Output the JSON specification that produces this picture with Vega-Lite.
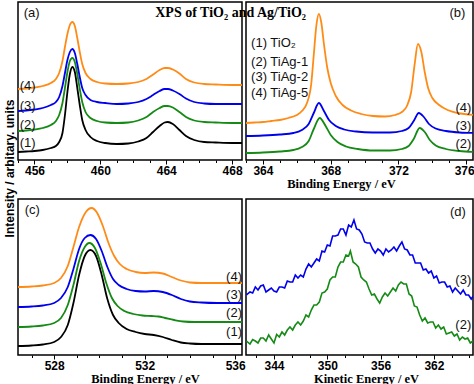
{
"$schema": "https://vega.github.io/schema/vega-lite/v6.json",
"padding": {"left": 2, "top": 1, "right": 0, "bottom": 0},
"title": {"text": "XPS of TiO₂ and Ag/TiO₂", "font": "Liberation Serif", "fontSize": 14, "fontWeight": "bold", "color": "#000", "anchor": "middle", "baseline": "middle", "offset": 0, "dx": -8, "dy": 26},
"config": {
  "view": {"stroke": "#000", "strokeWidth": 1.5},
  "axis": {"labelFont": "Liberation Sans", "labelFontSize": 12, "labelFontWeight": "bold", "labelColor": "#000", "tickColor": "#000", "titleFont": "Liberation Serif", "titleFontSize": 12.5, "titleFontWeight": "bold", "titleColor": "#000", "grid": false, "domain": false},
  "text": {"font": "Liberation Sans", "fontSize": 13, "color": "#111"},
  "line": {"strokeWidth": 1.8}
},
"datasets": {
"a": [
{"x":455.0,"y":8,"s":"(1)"},{"x":455.5,"y":8.5,"s":"(1)"},{"x":456.0,"y":9,"s":"(1)"},{"x":456.5,"y":10,"s":"(1)"},{"x":457.0,"y":12,"s":"(1)"},{"x":457.3,"y":14,"s":"(1)"},{"x":457.5,"y":18,"s":"(1)"},{"x":457.7,"y":27,"s":"(1)"},{"x":457.85,"y":45,"s":"(1)"},{"x":458.0,"y":68,"s":"(1)"},{"x":458.15,"y":86,"s":"(1)"},{"x":458.3,"y":93,"s":"(1)"},{"x":458.45,"y":88,"s":"(1)"},{"x":458.6,"y":72,"s":"(1)"},{"x":458.75,"y":55,"s":"(1)"},{"x":458.9,"y":40,"s":"(1)"},{"x":459.1,"y":30,"s":"(1)"},{"x":459.4,"y":23,"s":"(1)"},{"x":459.8,"y":19,"s":"(1)"},{"x":460.3,"y":17,"s":"(1)"},{"x":461.0,"y":16,"s":"(1)"},{"x":461.7,"y":16.5,"s":"(1)"},{"x":462.3,"y":18.5,"s":"(1)"},{"x":462.8,"y":22,"s":"(1)"},{"x":463.2,"y":28,"s":"(1)"},{"x":463.6,"y":34,"s":"(1)"},{"x":463.9,"y":37.5,"s":"(1)"},{"x":464.1,"y":38,"s":"(1)"},{"x":464.4,"y":36,"s":"(1)"},{"x":464.8,"y":30,"s":"(1)"},{"x":465.2,"y":24,"s":"(1)"},{"x":465.7,"y":20,"s":"(1)"},{"x":466.3,"y":18,"s":"(1)"},{"x":467.0,"y":17.5,"s":"(1)"},{"x":468.0,"y":17,"s":"(1)"},{"x":468.6,"y":17,"s":"(1)"},
{"x":455.0,"y":29,"s":"(2)"},{"x":455.5,"y":29.5,"s":"(2)"},{"x":456.0,"y":30.5,"s":"(2)"},{"x":456.5,"y":32,"s":"(2)"},{"x":457.0,"y":35,"s":"(2)"},{"x":457.3,"y":39,"s":"(2)"},{"x":457.5,"y":45,"s":"(2)"},{"x":457.7,"y":57,"s":"(2)"},{"x":457.85,"y":72,"s":"(2)"},{"x":458.0,"y":88,"s":"(2)"},{"x":458.15,"y":99,"s":"(2)"},{"x":458.3,"y":102,"s":"(2)"},{"x":458.45,"y":98,"s":"(2)"},{"x":458.6,"y":86,"s":"(2)"},{"x":458.75,"y":71,"s":"(2)"},{"x":458.9,"y":58,"s":"(2)"},{"x":459.1,"y":48,"s":"(2)"},{"x":459.4,"y":42,"s":"(2)"},{"x":459.8,"y":39,"s":"(2)"},{"x":460.3,"y":37.5,"s":"(2)"},{"x":461.0,"y":37,"s":"(2)"},{"x":461.7,"y":37.5,"s":"(2)"},{"x":462.3,"y":39.5,"s":"(2)"},{"x":462.8,"y":43,"s":"(2)"},{"x":463.2,"y":48,"s":"(2)"},{"x":463.6,"y":52,"s":"(2)"},{"x":463.9,"y":54,"s":"(2)"},{"x":464.1,"y":54,"s":"(2)"},{"x":464.4,"y":52.5,"s":"(2)"},{"x":464.8,"y":48,"s":"(2)"},{"x":465.2,"y":43,"s":"(2)"},{"x":465.7,"y":39.5,"s":"(2)"},{"x":466.3,"y":38,"s":"(2)"},{"x":467.0,"y":37.5,"s":"(2)"},{"x":468.0,"y":37,"s":"(2)"},{"x":468.6,"y":37,"s":"(2)"},
{"x":455.0,"y":49,"s":"(3)"},{"x":455.5,"y":49.5,"s":"(3)"},{"x":456.0,"y":50.5,"s":"(3)"},{"x":456.5,"y":52,"s":"(3)"},{"x":457.0,"y":55,"s":"(3)"},{"x":457.3,"y":58,"s":"(3)"},{"x":457.5,"y":63,"s":"(3)"},{"x":457.7,"y":74,"s":"(3)"},{"x":457.85,"y":87,"s":"(3)"},{"x":458.0,"y":100,"s":"(3)"},{"x":458.15,"y":108,"s":"(3)"},{"x":458.3,"y":111,"s":"(3)"},{"x":458.45,"y":107,"s":"(3)"},{"x":458.6,"y":96,"s":"(3)"},{"x":458.75,"y":83,"s":"(3)"},{"x":458.9,"y":72,"s":"(3)"},{"x":459.1,"y":65,"s":"(3)"},{"x":459.4,"y":60,"s":"(3)"},{"x":459.8,"y":58,"s":"(3)"},{"x":460.3,"y":57,"s":"(3)"},{"x":461.0,"y":56,"s":"(3)"},{"x":461.7,"y":56.5,"s":"(3)"},{"x":462.3,"y":58,"s":"(3)"},{"x":462.8,"y":61,"s":"(3)"},{"x":463.2,"y":65,"s":"(3)"},{"x":463.6,"y":69,"s":"(3)"},{"x":463.9,"y":71,"s":"(3)"},{"x":464.1,"y":71,"s":"(3)"},{"x":464.4,"y":69.5,"s":"(3)"},{"x":464.8,"y":66,"s":"(3)"},{"x":465.2,"y":61.5,"s":"(3)"},{"x":465.7,"y":58,"s":"(3)"},{"x":466.3,"y":56.5,"s":"(3)"},{"x":467.0,"y":56,"s":"(3)"},{"x":468.0,"y":56,"s":"(3)"},{"x":468.6,"y":56,"s":"(3)"},
{"x":455.0,"y":71,"s":"(4)"},{"x":455.5,"y":71.5,"s":"(4)"},{"x":456.0,"y":72.5,"s":"(4)"},{"x":456.5,"y":74,"s":"(4)"},{"x":457.0,"y":77,"s":"(4)"},{"x":457.3,"y":81,"s":"(4)"},{"x":457.5,"y":87,"s":"(4)"},{"x":457.7,"y":99,"s":"(4)"},{"x":457.85,"y":113,"s":"(4)"},{"x":458.0,"y":126,"s":"(4)"},{"x":458.15,"y":135,"s":"(4)"},{"x":458.3,"y":138,"s":"(4)"},{"x":458.45,"y":134,"s":"(4)"},{"x":458.6,"y":122,"s":"(4)"},{"x":458.75,"y":108,"s":"(4)"},{"x":458.9,"y":96,"s":"(4)"},{"x":459.1,"y":87,"s":"(4)"},{"x":459.4,"y":81,"s":"(4)"},{"x":459.8,"y":78,"s":"(4)"},{"x":460.3,"y":76.5,"s":"(4)"},{"x":461.0,"y":76,"s":"(4)"},{"x":461.7,"y":76.5,"s":"(4)"},{"x":462.3,"y":78,"s":"(4)"},{"x":462.8,"y":81,"s":"(4)"},{"x":463.2,"y":85.5,"s":"(4)"},{"x":463.6,"y":90,"s":"(4)"},{"x":463.9,"y":92,"s":"(4)"},{"x":464.1,"y":92,"s":"(4)"},{"x":464.4,"y":90.5,"s":"(4)"},{"x":464.8,"y":86.5,"s":"(4)"},{"x":465.2,"y":81,"s":"(4)"},{"x":465.7,"y":77.5,"s":"(4)"},{"x":466.3,"y":76,"s":"(4)"},{"x":467.0,"y":75.5,"s":"(4)"},{"x":468.0,"y":75,"s":"(4)"},{"x":468.6,"y":75,"s":"(4)"}
],
"b": [
{"x":363.0,"y":7,"s":"(2)"},{"x":364.0,"y":7.5,"s":"(2)"},{"x":365.0,"y":8.5,"s":"(2)"},{"x":365.8,"y":10,"s":"(2)"},{"x":366.3,"y":13,"s":"(2)"},{"x":366.7,"y":19,"s":"(2)"},{"x":367.0,"y":31,"s":"(2)"},{"x":367.35,"y":42,"s":"(2)"},{"x":367.7,"y":34,"s":"(2)"},{"x":368.0,"y":25,"s":"(2)"},{"x":368.4,"y":18,"s":"(2)"},{"x":368.9,"y":13.5,"s":"(2)"},{"x":369.6,"y":11,"s":"(2)"},{"x":370.5,"y":9.5,"s":"(2)"},{"x":371.5,"y":9.5,"s":"(2)"},{"x":372.2,"y":11,"s":"(2)"},{"x":372.6,"y":14,"s":"(2)"},{"x":372.9,"y":21,"s":"(2)"},{"x":373.25,"y":32,"s":"(2)"},{"x":373.55,"y":28,"s":"(2)"},{"x":373.85,"y":20,"s":"(2)"},{"x":374.2,"y":14.5,"s":"(2)"},{"x":374.8,"y":11,"s":"(2)"},{"x":375.6,"y":9,"s":"(2)"},{"x":376.5,"y":8,"s":"(2)"},
{"x":363.0,"y":24,"s":"(3)"},{"x":364.0,"y":24.5,"s":"(3)"},{"x":365.0,"y":25.5,"s":"(3)"},{"x":365.8,"y":27,"s":"(3)"},{"x":366.3,"y":30,"s":"(3)"},{"x":366.7,"y":36,"s":"(3)"},{"x":367.0,"y":47,"s":"(3)"},{"x":367.3,"y":57,"s":"(3)"},{"x":367.6,"y":49,"s":"(3)"},{"x":367.9,"y":40,"s":"(3)"},{"x":368.3,"y":34,"s":"(3)"},{"x":368.8,"y":30.5,"s":"(3)"},{"x":369.5,"y":28.5,"s":"(3)"},{"x":370.5,"y":27.5,"s":"(3)"},{"x":371.5,"y":27.5,"s":"(3)"},{"x":372.2,"y":29,"s":"(3)"},{"x":372.6,"y":32,"s":"(3)"},{"x":372.9,"y":39,"s":"(3)"},{"x":373.2,"y":47,"s":"(3)"},{"x":373.5,"y":43,"s":"(3)"},{"x":373.8,"y":36,"s":"(3)"},{"x":374.2,"y":31.5,"s":"(3)"},{"x":374.8,"y":29,"s":"(3)"},{"x":375.6,"y":27.5,"s":"(3)"},{"x":376.5,"y":27,"s":"(3)"},
{"x":363.0,"y":37,"s":"(4)"},{"x":363.5,"y":37.5,"s":"(4)"},{"x":364.0,"y":38,"s":"(4)"},{"x":364.5,"y":39,"s":"(4)"},{"x":365.0,"y":40,"s":"(4)"},{"x":365.5,"y":42,"s":"(4)"},{"x":366.0,"y":45,"s":"(4)"},{"x":366.3,"y":49,"s":"(4)"},{"x":366.6,"y":57,"s":"(4)"},{"x":366.85,"y":76,"s":"(4)"},{"x":367.0,"y":105,"s":"(4)"},{"x":367.15,"y":134,"s":"(4)"},{"x":367.3,"y":146,"s":"(4)"},{"x":367.45,"y":137,"s":"(4)"},{"x":367.6,"y":116,"s":"(4)"},{"x":367.8,"y":92,"s":"(4)"},{"x":368.0,"y":77,"s":"(4)"},{"x":368.3,"y":64,"s":"(4)"},{"x":368.7,"y":55,"s":"(4)"},{"x":369.2,"y":49.5,"s":"(4)"},{"x":369.8,"y":46,"s":"(4)"},{"x":370.5,"y":44,"s":"(4)"},{"x":371.2,"y":43.5,"s":"(4)"},{"x":371.8,"y":45,"s":"(4)"},{"x":372.2,"y":48,"s":"(4)"},{"x":372.5,"y":54,"s":"(4)"},{"x":372.75,"y":68,"s":"(4)"},{"x":372.95,"y":95,"s":"(4)"},{"x":373.15,"y":116,"s":"(4)"},{"x":373.35,"y":108,"s":"(4)"},{"x":373.55,"y":88,"s":"(4)"},{"x":373.75,"y":72,"s":"(4)"},{"x":374.0,"y":62,"s":"(4)"},{"x":374.4,"y":55,"s":"(4)"},{"x":374.9,"y":50,"s":"(4)"},{"x":375.5,"y":47,"s":"(4)"},{"x":376.5,"y":45,"s":"(4)"}
],
"c": [
{"x":526.4,"y":9,"s":"(1)"},{"x":527.0,"y":9.5,"s":"(1)"},{"x":527.5,"y":10.5,"s":"(1)"},{"x":528.0,"y":13,"s":"(1)"},{"x":528.3,"y":18,"s":"(1)"},{"x":528.6,"y":30,"s":"(1)"},{"x":528.85,"y":52,"s":"(1)"},{"x":529.1,"y":80,"s":"(1)"},{"x":529.35,"y":99,"s":"(1)"},{"x":529.6,"y":105,"s":"(1)"},{"x":529.85,"y":99,"s":"(1)"},{"x":530.1,"y":80,"s":"(1)"},{"x":530.35,"y":56,"s":"(1)"},{"x":530.6,"y":40,"s":"(1)"},{"x":530.85,"y":32,"s":"(1)"},{"x":531.2,"y":26,"s":"(1)"},{"x":531.6,"y":23,"s":"(1)"},{"x":532.0,"y":21,"s":"(1)"},{"x":532.4,"y":20,"s":"(1)"},{"x":532.8,"y":18,"s":"(1)"},{"x":533.2,"y":15,"s":"(1)"},{"x":533.6,"y":12.5,"s":"(1)"},{"x":534.0,"y":11.5,"s":"(1)"},{"x":534.5,"y":11,"s":"(1)"},{"x":535.0,"y":11,"s":"(1)"},{"x":535.5,"y":11,"s":"(1)"},{"x":536.4,"y":11,"s":"(1)"},
{"x":526.4,"y":28,"s":"(2)"},{"x":527.0,"y":28.5,"s":"(2)"},{"x":527.5,"y":29.5,"s":"(2)"},{"x":528.0,"y":32,"s":"(2)"},{"x":528.3,"y":37,"s":"(2)"},{"x":528.6,"y":50,"s":"(2)"},{"x":528.85,"y":70,"s":"(2)"},{"x":529.1,"y":94,"s":"(2)"},{"x":529.35,"y":108,"s":"(2)"},{"x":529.55,"y":112,"s":"(2)"},{"x":529.8,"y":107,"s":"(2)"},{"x":530.05,"y":92,"s":"(2)"},{"x":530.3,"y":72,"s":"(2)"},{"x":530.55,"y":57,"s":"(2)"},{"x":530.8,"y":49,"s":"(2)"},{"x":531.1,"y":44,"s":"(2)"},{"x":531.5,"y":41,"s":"(2)"},{"x":531.9,"y":39.5,"s":"(2)"},{"x":532.3,"y":39,"s":"(2)"},{"x":532.6,"y":38.5,"s":"(2)"},{"x":532.9,"y":37,"s":"(2)"},{"x":533.3,"y":35,"s":"(2)"},{"x":533.7,"y":33.5,"s":"(2)"},{"x":534.2,"y":33,"s":"(2)"},{"x":535.0,"y":33,"s":"(2)"},{"x":535.6,"y":33,"s":"(2)"},{"x":536.4,"y":33,"s":"(2)"},
{"x":526.4,"y":48,"s":"(3)"},{"x":527.0,"y":48.5,"s":"(3)"},{"x":527.5,"y":49.5,"s":"(3)"},{"x":528.0,"y":52,"s":"(3)"},{"x":528.3,"y":57,"s":"(3)"},{"x":528.6,"y":68,"s":"(3)"},{"x":528.85,"y":86,"s":"(3)"},{"x":529.1,"y":106,"s":"(3)"},{"x":529.35,"y":117,"s":"(3)"},{"x":529.6,"y":120,"s":"(3)"},{"x":529.85,"y":116,"s":"(3)"},{"x":530.1,"y":104,"s":"(3)"},{"x":530.35,"y":88,"s":"(3)"},{"x":530.6,"y":76,"s":"(3)"},{"x":530.85,"y":70,"s":"(3)"},{"x":531.2,"y":66,"s":"(3)"},{"x":531.6,"y":64,"s":"(3)"},{"x":532.0,"y":63.5,"s":"(3)"},{"x":532.4,"y":64,"s":"(3)"},{"x":532.8,"y":63,"s":"(3)"},{"x":533.2,"y":60,"s":"(3)"},{"x":533.6,"y":56,"s":"(3)"},{"x":534.0,"y":53.5,"s":"(3)"},{"x":534.5,"y":52.5,"s":"(3)"},{"x":535.2,"y":52,"s":"(3)"},{"x":536.4,"y":52,"s":"(3)"},
{"x":526.4,"y":68,"s":"(4)"},{"x":527.0,"y":68.5,"s":"(4)"},{"x":527.5,"y":69.5,"s":"(4)"},{"x":528.0,"y":72,"s":"(4)"},{"x":528.3,"y":77,"s":"(4)"},{"x":528.6,"y":89,"s":"(4)"},{"x":528.85,"y":108,"s":"(4)"},{"x":529.1,"y":128,"s":"(4)"},{"x":529.4,"y":143,"s":"(4)"},{"x":529.65,"y":147,"s":"(4)"},{"x":529.9,"y":142,"s":"(4)"},{"x":530.15,"y":129,"s":"(4)"},{"x":530.4,"y":112,"s":"(4)"},{"x":530.65,"y":99,"s":"(4)"},{"x":530.9,"y":91,"s":"(4)"},{"x":531.2,"y":86,"s":"(4)"},{"x":531.6,"y":83,"s":"(4)"},{"x":532.0,"y":82,"s":"(4)"},{"x":532.4,"y":82.5,"s":"(4)"},{"x":532.8,"y":81.5,"s":"(4)"},{"x":533.2,"y":78,"s":"(4)"},{"x":533.6,"y":74.5,"s":"(4)"},{"x":534.0,"y":72.5,"s":"(4)"},{"x":534.5,"y":72,"s":"(4)"},{"x":535.2,"y":72,"s":"(4)"},{"x":536.4,"y":72,"s":"(4)"}
],
"d": [
{"x":340.9,"y":60,"s":"(3)"},{"x":341.3,"y":63,"s":"(3)"},{"x":341.6,"y":62,"s":"(3)"},{"x":341.9,"y":68,"s":"(3)"},{"x":342.2,"y":65,"s":"(3)"},{"x":342.5,"y":69,"s":"(3)"},{"x":342.8,"y":70,"s":"(3)"},{"x":343.1,"y":63,"s":"(3)"},{"x":343.4,"y":65,"s":"(3)"},{"x":343.7,"y":67,"s":"(3)"},{"x":344.0,"y":64,"s":"(3)"},{"x":344.3,"y":63,"s":"(3)"},{"x":344.6,"y":68,"s":"(3)"},{"x":344.9,"y":68,"s":"(3)"},{"x":345.2,"y":67,"s":"(3)"},{"x":345.5,"y":74,"s":"(3)"},{"x":345.8,"y":73,"s":"(3)"},{"x":346.1,"y":73,"s":"(3)"},{"x":346.4,"y":80,"s":"(3)"},{"x":346.7,"y":77,"s":"(3)"},{"x":347.0,"y":80,"s":"(3)"},{"x":347.3,"y":78,"s":"(3)"},{"x":347.6,"y":86,"s":"(3)"},{"x":347.9,"y":91,"s":"(3)"},{"x":348.2,"y":88,"s":"(3)"},{"x":348.5,"y":92,"s":"(3)"},{"x":348.8,"y":96,"s":"(3)"},{"x":349.1,"y":94,"s":"(3)"},{"x":349.4,"y":104,"s":"(3)"},{"x":349.7,"y":103,"s":"(3)"},{"x":350.0,"y":110,"s":"(3)"},{"x":350.3,"y":109,"s":"(3)"},{"x":350.6,"y":119,"s":"(3)"},{"x":350.9,"y":119,"s":"(3)"},{"x":351.2,"y":120,"s":"(3)"},{"x":351.5,"y":126,"s":"(3)"},{"x":351.8,"y":126,"s":"(3)"},{"x":352.1,"y":120,"s":"(3)"},{"x":352.4,"y":130,"s":"(3)"},{"x":352.7,"y":128,"s":"(3)"},{"x":353.0,"y":135,"s":"(3)"},{"x":353.3,"y":126,"s":"(3)"},{"x":353.6,"y":125,"s":"(3)"},{"x":353.9,"y":121,"s":"(3)"},{"x":354.2,"y":113,"s":"(3)"},{"x":354.5,"y":112,"s":"(3)"},{"x":354.8,"y":112,"s":"(3)"},{"x":355.1,"y":106,"s":"(3)"},{"x":355.4,"y":102,"s":"(3)"},{"x":355.7,"y":106,"s":"(3)"},{"x":356.0,"y":104,"s":"(3)"},{"x":356.3,"y":100,"s":"(3)"},{"x":356.6,"y":106,"s":"(3)"},{"x":356.9,"y":103,"s":"(3)"},{"x":357.2,"y":105,"s":"(3)"},{"x":357.5,"y":108,"s":"(3)"},{"x":357.8,"y":104,"s":"(3)"},{"x":358.1,"y":109,"s":"(3)"},{"x":358.4,"y":113,"s":"(3)"},{"x":358.7,"y":106,"s":"(3)"},{"x":359.0,"y":105,"s":"(3)"},{"x":359.3,"y":100,"s":"(3)"},{"x":359.6,"y":100,"s":"(3)"},{"x":359.9,"y":92,"s":"(3)"},{"x":360.2,"y":92,"s":"(3)"},{"x":360.5,"y":92,"s":"(3)"},{"x":360.8,"y":85,"s":"(3)"},{"x":361.1,"y":86,"s":"(3)"},{"x":361.4,"y":82,"s":"(3)"},{"x":361.7,"y":84,"s":"(3)"},{"x":362.0,"y":77,"s":"(3)"},{"x":362.3,"y":79,"s":"(3)"},{"x":362.6,"y":72,"s":"(3)"},{"x":362.9,"y":73,"s":"(3)"},{"x":363.2,"y":73,"s":"(3)"},{"x":363.5,"y":68,"s":"(3)"},{"x":363.8,"y":69,"s":"(3)"},{"x":364.1,"y":63,"s":"(3)"},{"x":364.4,"y":67,"s":"(3)"},{"x":364.7,"y":64,"s":"(3)"},{"x":365.0,"y":61,"s":"(3)"},{"x":365.3,"y":65,"s":"(3)"},{"x":365.6,"y":60,"s":"(3)"},{"x":365.9,"y":60,"s":"(3)"},{"x":366.2,"y":56,"s":"(3)"},{"x":366.5,"y":60,"s":"(3)"},
{"x":340.9,"y":14,"s":"(2)"},{"x":341.3,"y":11,"s":"(2)"},{"x":341.6,"y":15.5,"s":"(2)"},{"x":341.9,"y":14,"s":"(2)"},{"x":342.2,"y":12,"s":"(2)"},{"x":342.5,"y":17,"s":"(2)"},{"x":342.8,"y":17,"s":"(2)"},{"x":343.1,"y":14,"s":"(2)"},{"x":343.4,"y":20,"s":"(2)"},{"x":343.7,"y":16,"s":"(2)"},{"x":344.0,"y":12,"s":"(2)"},{"x":344.3,"y":20.5,"s":"(2)"},{"x":344.6,"y":18,"s":"(2)"},{"x":344.9,"y":23,"s":"(2)"},{"x":345.2,"y":20,"s":"(2)"},{"x":345.5,"y":25,"s":"(2)"},{"x":345.8,"y":28,"s":"(2)"},{"x":346.1,"y":25,"s":"(2)"},{"x":346.4,"y":30,"s":"(2)"},{"x":346.7,"y":33,"s":"(2)"},{"x":347.0,"y":30,"s":"(2)"},{"x":347.3,"y":34,"s":"(2)"},{"x":347.6,"y":40,"s":"(2)"},{"x":347.9,"y":38,"s":"(2)"},{"x":348.2,"y":45,"s":"(2)"},{"x":348.5,"y":50,"s":"(2)"},{"x":348.8,"y":50,"s":"(2)"},{"x":349.1,"y":53,"s":"(2)"},{"x":349.4,"y":62,"s":"(2)"},{"x":349.7,"y":63,"s":"(2)"},{"x":350.0,"y":66,"s":"(2)"},{"x":350.3,"y":75,"s":"(2)"},{"x":350.6,"y":78,"s":"(2)"},{"x":350.9,"y":78,"s":"(2)"},{"x":351.2,"y":88,"s":"(2)"},{"x":351.5,"y":93,"s":"(2)"},{"x":351.8,"y":93,"s":"(2)"},{"x":352.1,"y":100,"s":"(2)"},{"x":352.4,"y":99,"s":"(2)"},{"x":352.6,"y":104,"s":"(2)"},{"x":352.9,"y":93,"s":"(2)"},{"x":353.2,"y":91,"s":"(2)"},{"x":353.5,"y":88,"s":"(2)"},{"x":353.8,"y":78,"s":"(2)"},{"x":354.1,"y":75,"s":"(2)"},{"x":354.4,"y":73,"s":"(2)"},{"x":354.7,"y":66,"s":"(2)"},{"x":355.0,"y":60,"s":"(2)"},{"x":355.3,"y":61,"s":"(2)"},{"x":355.6,"y":56,"s":"(2)"},{"x":355.9,"y":52,"s":"(2)"},{"x":356.2,"y":58,"s":"(2)"},{"x":356.5,"y":62,"s":"(2)"},{"x":356.8,"y":59,"s":"(2)"},{"x":357.1,"y":63,"s":"(2)"},{"x":357.4,"y":67,"s":"(2)"},{"x":357.7,"y":64,"s":"(2)"},{"x":358.0,"y":70,"s":"(2)"},{"x":358.3,"y":73,"s":"(2)"},{"x":358.6,"y":71,"s":"(2)"},{"x":358.9,"y":71,"s":"(2)"},{"x":359.2,"y":61,"s":"(2)"},{"x":359.5,"y":59,"s":"(2)"},{"x":359.8,"y":49,"s":"(2)"},{"x":360.1,"y":48,"s":"(2)"},{"x":360.4,"y":40,"s":"(2)"},{"x":360.7,"y":34,"s":"(2)"},{"x":361.0,"y":37,"s":"(2)"},{"x":361.3,"y":32,"s":"(2)"},{"x":361.6,"y":33,"s":"(2)"},{"x":361.9,"y":33,"s":"(2)"},{"x":362.2,"y":27,"s":"(2)"},{"x":362.5,"y":30,"s":"(2)"},{"x":362.8,"y":26,"s":"(2)"},{"x":363.1,"y":28,"s":"(2)"},{"x":363.4,"y":21,"s":"(2)"},{"x":363.7,"y":22,"s":"(2)"},{"x":364.0,"y":23,"s":"(2)"},{"x":364.3,"y":19,"s":"(2)"},{"x":364.6,"y":21,"s":"(2)"},{"x":364.9,"y":15,"s":"(2)"},{"x":365.2,"y":18,"s":"(2)"},{"x":365.5,"y":16,"s":"(2)"},{"x":365.8,"y":17,"s":"(2)"},{"x":366.1,"y":12,"s":"(2)"},{"x":366.4,"y":14,"s":"(2)"}
],
"tags": [
{"p":"a","x":455.1,"y":74,"t":"(4)"},{"p":"a","x":455.1,"y":54,"t":"(3)"},{"p":"a","x":455.1,"y":35,"t":"(2)"},{"p":"a","x":455.1,"y":17,"t":"(1)"},
{"p":"b","x":376.3,"y":52,"t":"(4)"},{"p":"b","x":376.3,"y":34,"t":"(3)"},{"p":"b","x":376.3,"y":16,"t":"(2)"},
{"p":"c","x":536.3,"y":78,"t":"(4)"},{"p":"c","x":536.3,"y":60,"t":"(3)"},{"p":"c","x":536.3,"y":42,"t":"(2)"},{"p":"c","x":536.3,"y":23,"t":"(1)"},
{"p":"d","x":366.2,"y":75,"t":"(3)"},{"p":"d","x":366.2,"y":30,"t":"(2)"}
],
"ids": [
{"p":"a","x":455.35,"y":147,"t":"(a)"},
{"p":"b","x":375.95,"y":147,"t":"(b)"},
{"p":"c","x":526.7,"y":145,"t":"(c)"},
{"p":"d","x":365.6,"y":143,"t":"(d)"}
],
"legend": [
{"x":363.3,"y":117,"t":"(1) TiO₂"},
{"x":363.3,"y":98,"t":"(2) TiAg-1"},
{"x":363.3,"y":83,"t":"(3) TiAg-2"},
{"x":363.3,"y":67,"t":"(4) TiAg-5"}
]
},
"columns": 2,
"bounds": "flush",
"spacing": {"row": 39, "column": 4},
"concat": [
{
 "width": 224, "height": 158,
 "layer": [
  {"data": {"name": "a"}, "mark": {"type": "line", "interpolate": "monotone", "clip": true},
   "encoding": {
    "x": {"field": "x", "type": "quantitative", "scale": {"domain": [455, 468.6], "nice": false, "zero": false}, "axis": {"values": [456, 460, 464, 468], "format": "d", "tickSize": 4, "labelPadding": 1, "labelFlush": false, "title": null}},
    "y": {"field": "y", "type": "quantitative", "scale": {"domain": [0, 158], "nice": false, "zero": false}, "axis": {"title": "Intensity / arbitary. units", "labels": false, "ticks": false, "titleFont": "Liberation Sans", "titleFontSize": 12, "titlePadding": 2, "titleY": 166}},
    "color": {"field": "s", "type": "nominal", "scale": {"domain": ["(1)", "(2)", "(3)", "(4)"], "range": ["#000000", "#158a15", "#0000ee", "#ff8b17"]}, "legend": null}
   }},
  {"data": {"name": "tags"}, "transform": [{"filter": "datum.p === 'a'"}], "mark": {"type": "text", "align": "left", "baseline": "middle"},
   "encoding": {
    "x": {"field": "x", "type": "quantitative", "scale": {"domain": [455, 468.6], "nice": false, "zero": false}, "axis": {"orient": "bottom", "values": [455, 456, 457, 458, 459, 460, 461, 462, 463, 464, 465, 466, 467, 468], "labels": false, "tickSize": 2.5, "title": null}},
    "y": {"field": "y", "type": "quantitative", "scale": {"domain": [0, 158], "nice": false, "zero": false}, "axis": null},
    "text": {"field": "t"}
   }},
  {"data": {"name": "ids"}, "transform": [{"filter": "datum.p === 'a'"}], "mark": {"type": "text", "align": "left", "baseline": "middle"},
   "encoding": {
    "x": {"field": "x", "type": "quantitative", "scale": {"domain": [455, 468.6], "nice": false, "zero": false}, "axis": null},
    "y": {"field": "y", "type": "quantitative", "scale": {"domain": [0, 158], "nice": false, "zero": false}, "axis": null},
    "text": {"field": "t"}
   }}
 ],
 "resolve": {"axis": {"x": "independent", "y": "independent"}}
},
{
 "width": 227, "height": 158,
 "layer": [
  {"data": {"name": "b"}, "mark": {"type": "line", "interpolate": "monotone", "clip": true},
   "encoding": {
    "x": {"field": "x", "type": "quantitative", "scale": {"domain": [363, 376.4], "nice": false, "zero": false}, "axis": {"values": [364, 368, 372, 376], "format": "d", "tickSize": 4, "labelPadding": 1, "labelFlush": 10, "labelFlushOffset": 8, "title": "Binding Energy / eV", "titlePadding": 1, "titleX": 95}},
    "y": {"field": "y", "type": "quantitative", "scale": {"domain": [0, 158], "nice": false, "zero": false}, "axis": null},
    "color": {"field": "s", "type": "nominal", "scale": {"domain": ["(1)", "(2)", "(3)", "(4)"], "range": ["#000000", "#158a15", "#0000ee", "#ff8b17"]}, "legend": null}
   }},
  {"data": {"name": "tags"}, "transform": [{"filter": "datum.p === 'b'"}], "mark": {"type": "text", "align": "right", "baseline": "middle"},
   "encoding": {
    "x": {"field": "x", "type": "quantitative", "scale": {"domain": [363, 376.4], "nice": false, "zero": false}, "axis": {"orient": "bottom", "values": [363, 364, 365, 366, 367, 368, 369, 370, 371, 372, 373, 374, 375, 376], "labels": false, "tickSize": 2.5, "title": null}},
    "y": {"field": "y", "type": "quantitative", "scale": {"domain": [0, 158], "nice": false, "zero": false}, "axis": null},
    "text": {"field": "t"}
   }},
  {"data": {"name": "ids"}, "transform": [{"filter": "datum.p === 'b'"}], "mark": {"type": "text", "align": "right", "baseline": "middle"},
   "encoding": {
    "x": {"field": "x", "type": "quantitative", "scale": {"domain": [363, 376.4], "nice": false, "zero": false}, "axis": null},
    "y": {"field": "y", "type": "quantitative", "scale": {"domain": [0, 158], "nice": false, "zero": false}, "axis": null},
    "text": {"field": "t"}
   }},
  {"data": {"name": "legend"}, "mark": {"type": "text", "align": "left", "baseline": "middle"},
   "encoding": {
    "x": {"field": "x", "type": "quantitative", "scale": {"domain": [363, 376.4], "nice": false, "zero": false}, "axis": null},
    "y": {"field": "y", "type": "quantitative", "scale": {"domain": [0, 158], "nice": false, "zero": false}, "axis": null},
    "text": {"field": "t"}
   }}
 ],
 "resolve": {"axis": {"x": "independent", "y": "independent"}}
},
{
 "width": 224, "height": 156,
 "layer": [
  {"data": {"name": "c"}, "mark": {"type": "line", "interpolate": "monotone", "clip": true},
   "encoding": {
    "x": {"field": "x", "type": "quantitative", "scale": {"domain": [526.4, 536.3], "nice": false, "zero": false}, "axis": {"values": [528, 532, 536], "format": "d", "tickSize": 4, "labelPadding": 1, "labelFlush": false, "title": "Binding Energy / eV", "titlePadding": 1, "titleX": 127}},
    "y": {"field": "y", "type": "quantitative", "scale": {"domain": [0, 156], "nice": false, "zero": false}, "axis": null},
    "color": {"field": "s", "type": "nominal", "scale": {"domain": ["(1)", "(2)", "(3)", "(4)"], "range": ["#000000", "#158a15", "#0000ee", "#ff8b17"]}, "legend": null}
   }},
  {"data": {"name": "tags"}, "transform": [{"filter": "datum.p === 'c'"}], "mark": {"type": "text", "align": "right", "baseline": "middle"},
   "encoding": {
    "x": {"field": "x", "type": "quantitative", "scale": {"domain": [526.4, 536.3], "nice": false, "zero": false}, "axis": {"orient": "bottom", "values": [527, 528, 529, 530, 531, 532, 533, 534, 535, 536], "labels": false, "tickSize": 2.5, "title": null}},
    "y": {"field": "y", "type": "quantitative", "scale": {"domain": [0, 156], "nice": false, "zero": false}, "axis": null},
    "text": {"field": "t"}
   }},
  {"data": {"name": "ids"}, "transform": [{"filter": "datum.p === 'c'"}], "mark": {"type": "text", "align": "left", "baseline": "middle"},
   "encoding": {
    "x": {"field": "x", "type": "quantitative", "scale": {"domain": [526.4, 536.3], "nice": false, "zero": false}, "axis": null},
    "y": {"field": "y", "type": "quantitative", "scale": {"domain": [0, 156], "nice": false, "zero": false}, "axis": null},
    "text": {"field": "t"}
   }}
 ],
 "resolve": {"axis": {"x": "independent", "y": "independent"}}
},
{
 "width": 227, "height": 156,
 "layer": [
  {"data": {"name": "d"}, "mark": {"type": "line", "clip": true, "strokeWidth": 1.6},
   "encoding": {
    "x": {"field": "x", "type": "quantitative", "scale": {"domain": [340.85, 366.4], "nice": false, "zero": false}, "axis": {"values": [344, 350, 356, 362], "format": "d", "tickSize": 4, "labelPadding": 1, "labelFlush": false, "title": "Kinetic Energy / eV", "titlePadding": 1, "titleX": 120}},
    "y": {"field": "y", "type": "quantitative", "scale": {"domain": [0, 156], "nice": false, "zero": false}, "axis": null},
    "color": {"field": "s", "type": "nominal", "scale": {"domain": ["(1)", "(2)", "(3)", "(4)"], "range": ["#000000", "#158a15", "#0000ee", "#ff8b17"]}, "legend": null}
   }},
  {"data": {"name": "tags"}, "transform": [{"filter": "datum.p === 'd'"}], "mark": {"type": "text", "align": "right", "baseline": "middle"},
   "encoding": {
    "x": {"field": "x", "type": "quantitative", "scale": {"domain": [340.85, 366.4], "nice": false, "zero": false}, "axis": {"orient": "bottom", "values": [342, 344, 346, 348, 350, 352, 354, 356, 358, 360, 362, 364, 366], "labels": false, "tickSize": 2.5, "title": null}},
    "y": {"field": "y", "type": "quantitative", "scale": {"domain": [0, 156], "nice": false, "zero": false}, "axis": null},
    "text": {"field": "t"}
   }},
  {"data": {"name": "ids"}, "transform": [{"filter": "datum.p === 'd'"}], "mark": {"type": "text", "align": "right", "baseline": "middle"},
   "encoding": {
    "x": {"field": "x", "type": "quantitative", "scale": {"domain": [340.85, 366.4], "nice": false, "zero": false}, "axis": null},
    "y": {"field": "y", "type": "quantitative", "scale": {"domain": [0, 156], "nice": false, "zero": false}, "axis": null},
    "text": {"field": "t"}
   }}
 ],
 "resolve": {"axis": {"x": "independent", "y": "independent"}}
}
]
}
